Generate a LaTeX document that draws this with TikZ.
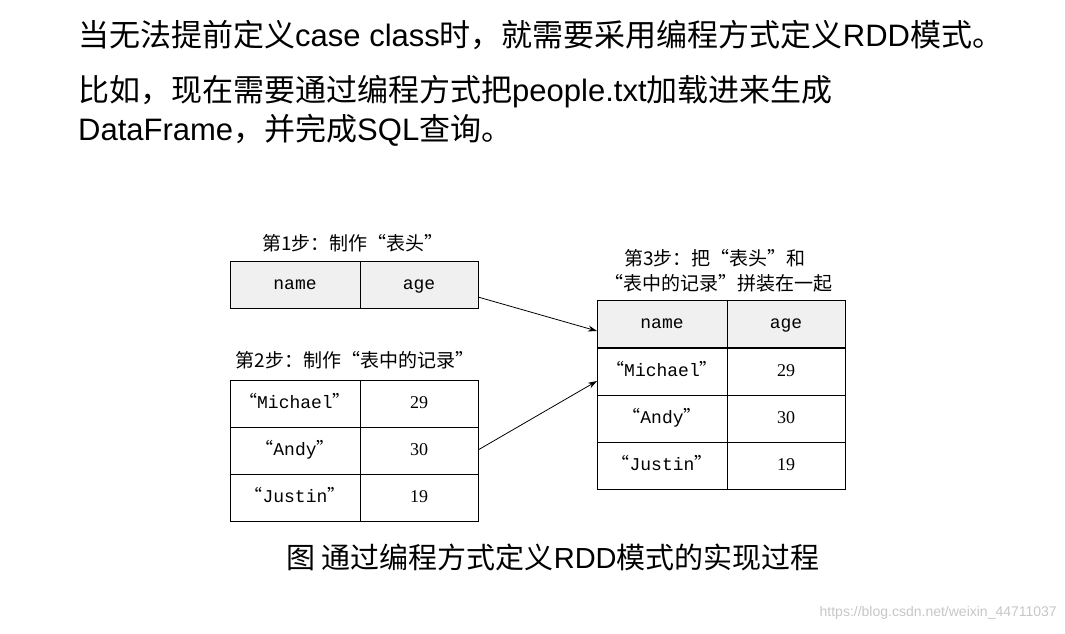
\documentclass[tikz,border=0pt]{standalone}
\usepackage{fontspec}
\setmainfont{Liberation Serif}
\setmonofont{Liberation Mono}
\newfontfamily\cjk{Noto Sans CJK SC}
\newfontfamily\lat{Liberation Sans}
\usetikzlibrary{arrows.meta}
\tikzset{
 cell/.style={draw,line width=0.9pt,minimum height=47pt,inner sep=0pt,outer sep=0pt,text height=12pt,text depth=3pt,font=\fontsize{18}{20}\selectfont},
 ca/.style={cell,minimum width=130pt},
 cb/.style={cell,minimum width=118pt},
 hd/.style={fill=gray!12},
 lbl/.style={font=\cjk\fontsize{19}{22}\selectfont,inner sep=0pt},
 big/.style={font=\cjk\fontsize{31}{36}\selectfont,inner sep=0pt,anchor=west},
 arr/.style={-{Stealth[length=9pt,width=6pt]},line width=0.8pt}
}
\begin{document}
\begin{tikzpicture}[x=1pt,y=-1pt]
\useasboundingbox (0,0) rectangle (1065,633);
\node[big] (t1) at (78,35) {当无法提前定义{\lat case class}时，就需要采用编程方式定义{\lat RDD}模式。};
\node[big] (t2) at (78,92) {比如，现在需要通过编程方式把{\lat people.txt}加载进来生成};
\node[big] (t3) at (78,130) {{\lat DataFrame}，并完成{\lat SQL}查询。};
% table 1
\node[lbl] (l1) at (353,243) {第1步：制作“表头”};
\node[ca,hd] (a1) at (295,285) {\ttfamily name};
\node[cb,hd] (a2) at (419,285) {\ttfamily age};
% table 2
\node[lbl] (l2) at (355,360) {第2步：制作“表中的记录”};
\node[ca] (b11) at (295,403.5) {{\cjk “}\texttt{Michael}{\cjk ”}};
\node[cb] (b12) at (419,403.5) {29};
\node[ca] (b21) at (295,450.5) {{\cjk “}\texttt{Andy}{\cjk ”}};
\node[cb] (b22) at (419,450.5) {30};
\node[ca] (b31) at (295,497.5) {{\cjk “}\texttt{Justin}{\cjk ”}};
\node[cb] (b32) at (419,497.5) {19};
% table 3
\node[lbl] (l3) at (715,258) {第3步：把“表头”和};
\node[lbl] (l4) at (718,283) {“表中的记录”拼装在一起};
\node[ca,hd] (c01) at (662,324) {\ttfamily name};
\node[cb,hd] (c02) at (786,324) {\ttfamily age};
\node[ca] (c11) at (662,371.5) {{\cjk “}\texttt{Michael}{\cjk ”}};
\node[cb] (c12) at (786,371.5) {29};
\node[ca] (c21) at (662,418.5) {{\cjk “}\texttt{Andy}{\cjk ”}};
\node[cb] (c22) at (786,418.5) {30};
\node[ca] (c31) at (662,465.5) {{\cjk “}\texttt{Justin}{\cjk ”}};
\node[cb] (c32) at (786,465.5) {19};
\coordinate (p1) at (478,297);
\coordinate (q1) at (597,331);
\coordinate (p2) at (478,450);
\coordinate (q2) at (597,381);
\draw[arr] (p1) -- (q1);
\draw[arr] (p2) -- (q2);
\node[font=\cjk\fontsize{29}{34}\selectfont,inner sep=0pt] (cap) at (553,557) {图 通过编程方式定义{\lat RDD}模式的实现过程};
\node[font=\lat\fontsize{14}{16}\selectfont,text=gray!45,anchor=east,inner sep=0pt] (wm) at (1057,613) {https://blog.csdn.net/weixin\_44711037};
\end{tikzpicture}
\end{document}
